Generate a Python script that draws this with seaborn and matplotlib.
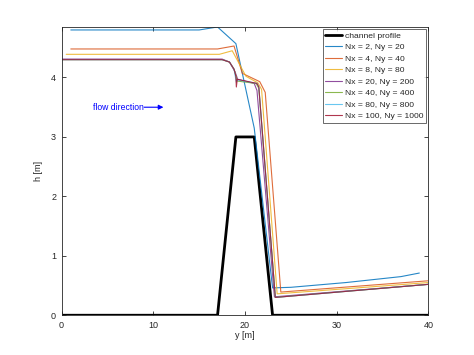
import numpy as np
import pandas as pd
import matplotlib
matplotlib.use("Agg")
import matplotlib.pyplot as plt
import seaborn as sns

# channel bottom profile
profile_y = [0, 17, 19, 21, 23, 40]
profile_h = [0, 0, 3, 3, 0, 0]

# water surface for each grid resolution (breakpoints)
labels = ["Nx = 2, Ny = 20", "Nx = 4, Ny = 40", "Nx = 8, Ny = 80",
          "Nx = 20, Ny = 200", "Nx = 40, Ny = 400", "Nx = 80, Ny = 800",
          "Nx = 100, Ny = 1000"]
colors = ["#0072BD", "#D95319", "#EDB120", "#7E2F8E", "#77AC30", "#4DBEEE", "#A2142F"]

y_nx2 = [1, 15, 17, 19, 21, 23, 25, 31, 37, 39]
h_nx2 = [4.80, 4.80, 4.85, 4.57, 3.15, 0.46, 0.47, 0.55, 0.65, 0.71]

y_nx4 = [1, 17.0, 18.8, 19.7, 21.6, 22.2, 23.9, 40]
h_nx4 = [4.48, 4.48, 4.53, 4.07, 3.93, 3.75, 0.39, 0.58]

y_nx8 = [0.5, 17.2, 18.6, 20.1, 21.4, 21.8, 23.5, 40]
h_nx8 = [4.39, 4.39, 4.45, 4.02, 3.91, 3.80, 0.36, 0.55]

y_nx20 = [0, 17.5, 18.3, 18.9, 19.2, 21.0, 21.3, 23.2, 40]
h_nx20 = [4.31, 4.31, 4.26, 4.10, 3.97, 3.90, 3.78, 0.31, 0.52]

y_nx40 = [0, 17.5, 18.3, 18.8, 19.05, 19.15, 21.2, 21.5, 23.3, 40]
h_nx40 = [4.30, 4.30, 4.26, 4.14, 4.00, 3.94, 3.90, 3.82, 0.30, 0.52]

y_nx80 = [0, 17.5, 18.3, 18.8, 19.05, 19.15, 21.3, 21.5, 23.3, 40]
h_nx80 = [4.30, 4.30, 4.26, 4.14, 3.92, 3.96, 3.90, 3.84, 0.30, 0.52]

y_nx100 = [0, 17.5, 18.3, 18.8, 19.0, 19.05, 19.15, 21.3, 21.5, 23.3, 40]
h_nx100 = [4.30, 4.30, 4.26, 4.14, 4.02, 3.84, 3.97, 3.90, 3.84, 0.30, 0.52]

series_y = [y_nx2, y_nx4, y_nx8, y_nx20, y_nx40, y_nx80, y_nx100]
series_h = [h_nx2, h_nx4, h_nx8, h_nx20, h_nx40, h_nx80, h_nx100]

sns.set_style("ticks")
plt.rcParams["font.family"] = ["Liberation Sans", "DejaVu Sans"]

fig = plt.figure(figsize=(4.74, 3.55), dpi=100)
ax = fig.add_axes([0.13, 0.112, 0.774, 0.812])

sns.lineplot(x=profile_y, y=profile_h, color="black", linewidth=2,
             sort=False, ax=ax)
for ys, hs, c in zip(series_y, series_h, colors):
    sns.lineplot(x=ys, y=hs, color=c, linewidth=0.8, alpha=0.85,
                 sort=False, estimator=None, ax=ax)

ax.set_xlim(0, 40)
ax.set_ylim(0, 4.85)
ax.set_xticks([0, 10, 20, 30, 40])
ax.set_yticks([0, 1, 2, 3, 4])
ax.set_xlabel("y [m]", fontsize=6.5, color="#262626", labelpad=1)
ax.set_ylabel("h [m]", fontsize=6.5, color="#262626", labelpad=6)
ax.tick_params(direction="in", top=True, right=True, labelsize=6.5,
               colors="#262626", length=3, width=0.6, pad=4)
for s in ax.spines.values():
    s.set_visible(True)
    s.set_linewidth(0.6)
    s.set_color("#262626")

ax.annotate("", xy=(11.4, 3.5), xytext=(8.7, 3.5),
            arrowprops=dict(arrowstyle="-|>", color="blue", lw=0.8,
                            mutation_scale=7))
ax.text(3.4, 3.5, "flow direction", color="blue", fontsize=6.2,
        va="center", ha="left")

lines = ax.get_lines()
leg = ax.legend(lines, ["channel profile"] + labels, loc="upper right",
                fontsize=6.1, frameon=True, fancybox=False,
                handlelength=2.0, labelspacing=0.42, borderpad=0.3,
                handletextpad=0.35, borderaxespad=0.25)
leg.get_frame().set_edgecolor("#262626")
leg.get_frame().set_linewidth(0.6)

fig.savefig("out.png", dpi=100)
